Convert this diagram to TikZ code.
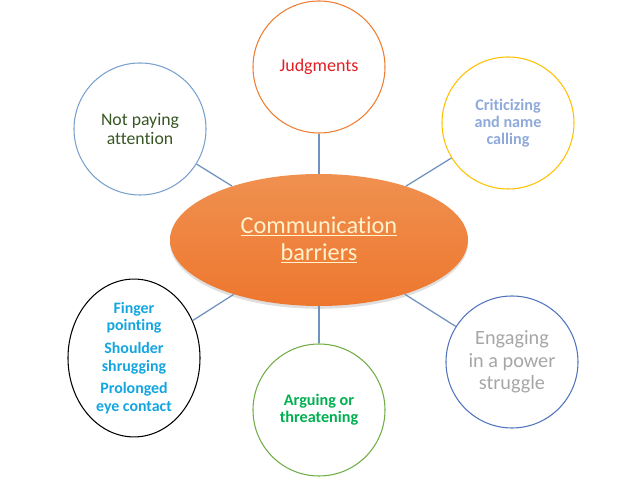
\documentclass[tikz,border=0pt]{standalone}
\usepackage{fontspec}
\setmainfont{Carlito}[RawFeature={-liga,-clig,-calt}]
\usetikzlibrary{shapes.geometric,shadows}

\definecolor{linkblue}{RGB}{112,146,190}
\definecolor{judgred}{RGB}{224,30,36}
\definecolor{critblue}{RGB}{142,169,219}
\definecolor{attgreen}{RGB}{55,86,35}
\definecolor{fingcyan}{RGB}{20,165,225}
\definecolor{arggreen}{RGB}{0,176,80}
\definecolor{enggray}{RGB}{166,166,166}
\definecolor{ringorange}{RGB}{237,125,49}
\definecolor{ringgold}{RGB}{255,192,0}
\definecolor{ringblue}{RGB}{120,160,205}
\definecolor{ringgreen}{RGB}{112,173,71}
\definecolor{ringnavy}{RGB}{80,115,190}
\definecolor{creamtext}{RGB}{255,242,204}

\begin{document}
\begin{tikzpicture}[
    ring/.style={circle, draw, line width=0.75pt, minimum size=3.3cm, inner sep=0pt, align=center},
    link/.style={draw=linkblue, line width=0.9pt}
  ]
  %%%%%%%%%%%%%%%%Page frame%%%%%%%%%%%%%%
  \useasboundingbox (0,0) rectangle (15.95,11.95);

  %%%%%%%%%%%%%%%%Centre%%%%%%%%%%%%%%
  \node[ellipse, minimum width=7.45cm, minimum height=3.3cm, inner sep=0pt,
        top color=ringorange!85!white, bottom color=ringorange!95!red,
        drop shadow={opacity=0.25, shadow xshift=0pt, shadow yshift=-2pt},
        text=creamtext, align=center, font=\fontsize{17.3}{18.9}\selectfont]
        (barriers) at (7.975,5.95) {\underline{Communication}\\\underline{barriers}};

  %%%%%%%%%%%%%%%%Outer circles%%%%%%%%%%%%%%
  \node[ring, draw=ringorange, text=judgred, font=\fontsize{12.8}{13}\selectfont]
        (judg) at (7.975,10.275) {Judgments};
  \node[ring, draw=ringgold, text=critblue, font=\bfseries\fontsize{11.5}{12}\selectfont]
        (crit) at (12.7,8.875) {Criticizing\\and name\\calling};
  \node[ring, draw=ringblue, text=attgreen, font=\fontsize{12.6}{13}\selectfont]
        (att) at (3.5,8.725) {Not paying\\attention};
  \node[ellipse, draw=black, line width=0.75pt, minimum width=3.3cm, minimum height=3.9cm,
        inner sep=0pt, align=center, text=fingcyan, font=\bfseries\fontsize{11.3}{12.5}\selectfont]
        (body) at (3.35,3.0) {Finger\\pointing\\[3.6pt]Shoulder\\shrugging\\[3.6pt]Prolonged\\eye contact};
  \node[ring, draw=ringgreen, text=arggreen, font=\bfseries\fontsize{11.5}{12}\selectfont]
        (arg) at (7.975,1.7) {Arguing or\\threatening};
  \node[ring, draw=ringnavy, text=enggray, font=\fontsize{14.4}{16.1}\selectfont]
        (power) at (12.8,2.9) {Engaging\\in a power\\struggle};

  %%%%%%%%%%%%%%%%Connectors%%%%%%%%%%%%%%
  \draw[link] (barriers) -- (judg);
  \draw[link] (barriers) -- (crit);
  \draw[link] (barriers) -- (att);
  \draw[link] (barriers) -- (body);
  \draw[link] (barriers) -- (arg);
  \draw[link] (barriers) -- (power);

\end{tikzpicture}
\end{document}
